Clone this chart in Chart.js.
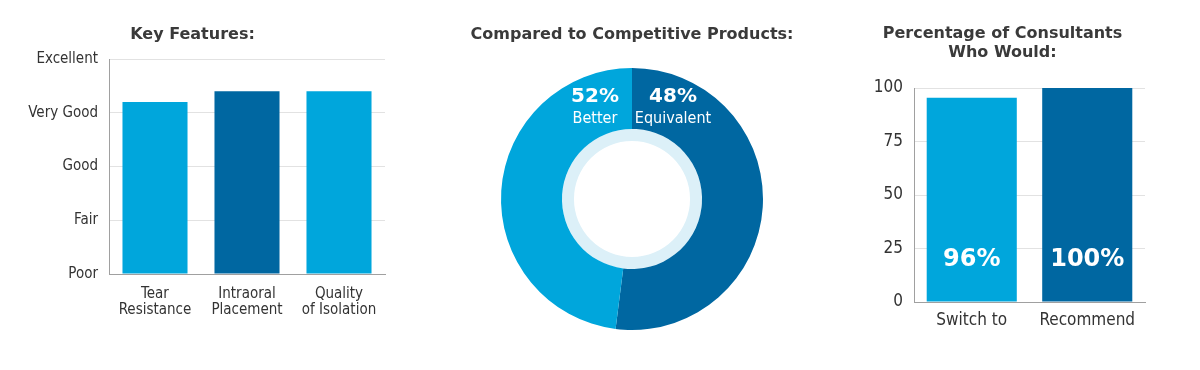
<!DOCTYPE html>
<html>
<head>
<meta charset="utf-8">
<script src="https://cdn.jsdelivr.net/npm/chart.js@4.4.0/dist/chart.umd.min.js"></script>
<style>
    html, body { margin: 0; padding: 0; background: #ffffff; }
    body { width: 1200px; height: 370px; position: relative; overflow: hidden; }
    canvas { position: absolute; top: 0; }
    #featuresChart { left: 0px; }
    #compareChart { left: 462px; }
    #consultChart { left: 860px; }
</style>
</head>
<body>
<canvas id="featuresChart" width="486" height="370"></canvas>
<canvas id="compareChart" width="340" height="370"></canvas>
<canvas id="consultChart" width="302" height="370"></canvas>

<script>
// --- data ---
const featureCategories = [['Tear', 'Resistance'], ['Intraoral', 'Placement'], ['Quality', 'of Isolation']];
const featureScores = [3.2, 3.4, 3.4];   // 0 = Poor ... 4 = Excellent
const ratingLabels = ['Poor', 'Fair', 'Good', 'Very Good', 'Excellent'];

const compareNames = ['Equivalent', 'Better'];
const comparePercents = [48, 52];        // printed callouts
const compareArcShares = [52, 48];       // arc sizes as drawn (dark first, from 12 o'clock)

const consultCategories = ['Switch to', 'Recommend'];
const consultValues = [95.5, 100];
const consultLabels = ['96%', '100%'];
const consultTicks = [0, 25, 50, 75, 100];

// --- look ---
const LIGHT_BLUE = '#00a6dc';
const DARK_BLUE = '#0067a1';
const RING_BLUE = '#dcf0f8';
const TEXT = '#333333';
const TITLE = '#3a3a3a';
const GRID = '#e2e2e2';
const AXIS = '#a0a0a0';
const NARROW = "'DejaVu Sans Condensed', 'Liberation Sans Narrow', sans-serif";
const WIDE = "'DejaVu Sans', sans-serif";

Chart.defaults.animation = false;
Chart.defaults.responsive = false;
Chart.defaults.plugins.legend.display = false;
Chart.defaults.plugins.tooltip.enabled = false;

function titleOptions(text, bottomPad, lineHeight) {
    return {
        display: true,
        text: text,
        color: TITLE,
        font: { family: WIDE, size: 16, weight: 'bold', lineHeight: lineHeight || 1.2 },
        padding: { top: 25, bottom: bottomPad },
    };
}

// Key Features
new Chart(document.getElementById('featuresChart'), {
    type: 'bar',
    data: {
        labels: featureCategories,
        datasets: [{
            data: featureScores,
            backgroundColor: [LIGHT_BLUE, DARK_BLUE, LIGHT_BLUE],
            borderWidth: 0,
            barPercentage: 0.707,
            categoryPercentage: 1,
        }]
    },
    options: {
        layout: { padding: { left: 0, right: 101, top: 0, bottom: 0 } },
        plugins: { title: titleOptions('Key Features:', 14.8) },
        scales: {
            x: {
                grid: { display: false },
                border: { display: true, color: AXIS, width: 1 },
                ticks: {
                    color: TEXT,
                    padding: 4,
                    maxRotation: 0,
                    autoSkip: false,
                    font: { family: NARROW, size: 15, lineHeight: 1.07 },
                },
                afterFit: (scale) => { scale.height = 96; },
            },
            y: {
                min: 0,
                max: 4,
                grid: { color: GRID, drawTicks: false },
                border: { display: true, color: AXIS, width: 1 },
                ticks: {
                    stepSize: 1,
                    color: TEXT,
                    padding: 11,
                    font: { family: NARROW, size: 15 },
                    callback: (value) => ratingLabels[value],
                },
                afterFit: (scale) => { scale.width = 109; },
            }
        }
    }
});

// callouts on top of the doughnut
const calloutPlugin = {
    id: 'callouts',
    afterDatasetsDraw(chart) {
        const arc = chart.getDatasetMeta(0).data[0];
        if (!arc) return;
        const ctx = chart.ctx;
        const r = arc.outerRadius;
        // index 0 (dark) sits right of the divider, index 1 (light) left of it
        const sides = [41, -37];
        ctx.save();
        ctx.fillStyle = '#ffffff';
        ctx.textAlign = 'center';
        ctx.textBaseline = 'middle';
        compareNames.forEach((name, i) => {
            const x = arc.x + sides[i];
            ctx.font = "bold 20px " + WIDE;
            ctx.fillText(comparePercents[i] + '%', x, arc.y - r * 0.78);
            ctx.font = "16px " + NARROW;
            ctx.fillText(name, x, arc.y - r * 0.61);
        });
        ctx.restore();
    }
};

// Compared to Competitive Products
new Chart(document.getElementById('compareChart'), {
    type: 'doughnut',
    data: {
        labels: compareNames,
        datasets: [
            {
                data: compareArcShares,
                backgroundColor: [DARK_BLUE, LIGHT_BLUE],
                borderWidth: 0,
                weight: 61,
            },
            {
                data: [1],
                backgroundColor: [RING_BLUE],
                borderWidth: 0,
                weight: 12,
            }
        ]
    },
    options: {
        cutout: '44.3%',
        layout: { padding: { left: 0, right: 0, top: 0, bottom: 40 } },
        plugins: { title: titleOptions('Compared to Competitive Products:', 23.8) },
    },
    plugins: [calloutPlugin]
});

// percentages written inside the bars
const barLabelPlugin = {
    id: 'barLabels',
    afterDatasetsDraw(chart) {
        const ctx = chart.ctx;
        const bars = chart.getDatasetMeta(0).data;
        ctx.save();
        ctx.fillStyle = '#ffffff';
        ctx.textAlign = 'center';
        ctx.textBaseline = 'middle';
        ctx.font = "bold 24px " + WIDE;
        bars.forEach((bar, i) => {
            ctx.fillText(consultLabels[i], bar.x, chart.chartArea.bottom - 42);
        });
        ctx.restore();
    }
};

// Percentage of Consultants Who Would
new Chart(document.getElementById('consultChart'), {
    type: 'bar',
    data: {
        labels: consultCategories,
        datasets: [{
            data: consultValues,
            backgroundColor: [LIGHT_BLUE, DARK_BLUE],
            borderWidth: 0,
            barPercentage: 0.78,
            categoryPercentage: 1,
        }]
    },
    options: {
        layout: { padding: { left: 0, right: 17, top: 0, bottom: 0 } },
        plugins: { title: titleOptions(['Percentage of Consultants', 'Who Would:'], 26.2, 1.15) },
        scales: {
            x: {
                grid: { display: false },
                border: { display: true, color: AXIS, width: 1 },
                ticks: {
                    color: TEXT,
                    padding: 0,
                    maxRotation: 0,
                    autoSkip: false,
                    font: { family: NARROW, size: 17 },
                },
                afterFit: (scale) => { scale.height = 68; },
            },
            y: {
                min: consultTicks[0],
                max: consultTicks[consultTicks.length - 1],
                grid: { color: GRID, drawTicks: false },
                border: { display: true, color: AXIS, width: 1 },
                ticks: {
                    stepSize: consultTicks[1] - consultTicks[0],
                    color: TEXT,
                    padding: 11,
                    font: { family: NARROW, size: 17 },
                },
                afterFit: (scale) => { scale.width = 54; },
            }
        }
    },
    plugins: [barLabelPlugin]
});
</script>
</body>
</html>
